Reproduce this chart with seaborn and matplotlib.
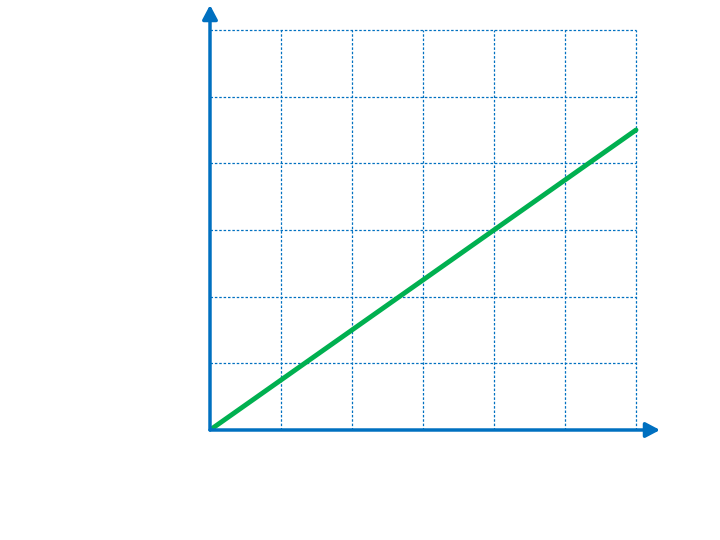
import matplotlib
matplotlib.use("Agg")
import matplotlib.pyplot as plt
import seaborn as sns
import pandas as pd

x_vals = [0, 6]
y_vals = [0, 4.5]
grid_ticks = [1, 2, 3, 4, 5, 6]

sns.set_theme(style="white")
blue = "#0070C0"
green = "#00B050"

fig = plt.figure(figsize=(7.2, 5.4), dpi=100)
ax = fig.add_axes([210/720, 110/540, 450/720, 425/540])
xmax = 450/71.0
ymax = 425/66.67
ax.set_xlim(0, xmax)
ax.set_ylim(0, ymax)
for s in ax.spines.values():
    s.set_visible(False)
ax.set_xticks([])
ax.set_yticks([])

ax.vlines(grid_ticks, 0, 6, colors=blue, linewidth=0.9, linestyles=(0, (2, 1.5)))
ax.hlines(grid_ticks, 0, 6, colors=blue, linewidth=0.9, linestyles=(0, (2, 1.5)))

df = pd.DataFrame({"x": x_vals, "y": y_vals})
sns.lineplot(data=df, x="x", y="y", ax=ax, color=green, linewidth=3.5, zorder=3)
ax.set_xlabel("")
ax.set_ylabel("")

arrow = dict(arrowstyle="-|>,head_length=0.85,head_width=0.45", color=blue,
             linewidth=2.5, shrinkA=0, shrinkB=0, mutation_scale=10)
ax.annotate("", xy=(xmax, 0), xytext=(0, 0), arrowprops=arrow, annotation_clip=False, zorder=4)
ax.annotate("", xy=(0, ymax), xytext=(0, 0), arrowprops=arrow, annotation_clip=False, zorder=4)

fig.savefig("out.png", dpi=100)
